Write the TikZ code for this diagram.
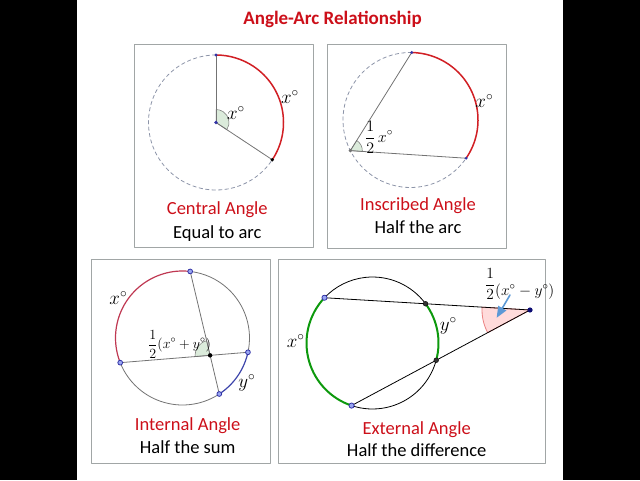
\RequirePackage{fix-cm}
\documentclass[tikz,border=0pt]{standalone}
\usepackage{fontspec}
\setmainfont{Carlito}
\usetikzlibrary{arrows,calc}
\definecolor{ttqqqq}{rgb}{0.8,0.06,0.1}
\definecolor{ccqqqq}{rgb}{0.82,0.12,0.14}
\definecolor{bqbqbq}{rgb}{0.63,0.65,0.65}
\definecolor{cqcqcq}{rgb}{0.45,0.45,0.45}
\definecolor{dadada}{rgb}{0.55,0.58,0.66}
\definecolor{ddeedd}{rgb}{0.86,0.92,0.86}
\definecolor{bqccqq}{rgb}{0.75,0.22,0.32}
\definecolor{qqbqcc}{rgb}{0.24,0.27,0.67}
\definecolor{qqccqq}{rgb}{0.05,0.6,0.05}
\definecolor{ffdddd}{rgb}{1,0.86,0.86}
\definecolor{eeaaaa}{rgb}{0.92,0.5,0.5}
\definecolor{ccddff}{rgb}{0.6,0.65,0.95}
\definecolor{qqqqaa}{rgb}{0.2,0.2,0.65}
\definecolor{qqqq66}{rgb}{0.05,0.05,0.45}
\definecolor{eebbff}{rgb}{0.36,0.6,0.84}

\begin{document}
\begin{tikzpicture}[line cap=round,line join=round,>=triangle 45,x=1pt,y=1pt,
  frame/.style={draw=bqbqbq,line width=0.9pt},
  chord/.style={draw=cqcqcq,line width=0.8pt},
  dashcirc/.style={draw=dadada,dash pattern=on 3.5pt off 3pt,line width=0.8pt},
  redarc/.style={draw=ccqqqq,line width=1.5pt},
  anglegreen/.style={fill=ddeedd,draw=cqcqcq,line width=0.5pt},
  ptblue/.style={fill=ccddff,draw=qqqqaa,line width=0.8pt},
  ptdark/.style={fill=black!80,draw=black},
  caption/.style={anchor=base,font=\fontsize{18.5}{22}\selectfont},
  lbl/.style={font=\fontsize{19}{22}\selectfont}]

\useasboundingbox (0,0) rectangle (640,480);
\fill (0,0) rectangle (77,480);
\fill (563,0) rectangle (640,480);
\node [anchor=base,text=ttqqqq,font=\bfseries\fontsize{19}{23}\selectfont] (title) at (332.5,455) {Angle-Arc Relationship};

% frames
\draw [frame] (134,233) rectangle (313,436);
\draw [frame] (327,232) rectangle (506,436);
\draw [frame] (91,17) rectangle (270,221);
\draw [frame] (278,17) rectangle (545,221);

% central angle
\coordinate (O1) at (216,357.5);
\coordinate (A1) at ($(O1)+(90:67.5)$);
\coordinate (B1) at ($(O1)+(-33.5:67.5)$);
\draw [dashcirc] (A1) arc (90:326.5:67.5);
\draw [shift={(O1)},anglegreen] (0,0) -- (-33.5:13) arc (-33.5:90:13) -- cycle;
\draw [redarc] (B1) arc (-33.5:90:67.5);
\draw [chord] (O1)-- (A1);
\draw [chord] (O1)-- (B1);
\fill [qqqqaa] (O1) circle (1.8);
\fill [qqqqaa] (A1) circle (1.6);
\fill [black] (B1) circle (1.8);
\draw (236,367.3) node [lbl] (x1) {$x^\circ$};
\draw (290,383.3) node [lbl] (x1arc) {$x^\circ$};
\draw (217.3,265) node [caption,text=ttqqqq] (c1) {Central Angle};
\draw (217.3,241.7) node [caption] (d1) {Equal to arc};

% inscribed angle
\coordinate (O2) at (410.5,360);
\coordinate (A2) at ($(O2)+(89:67.5)$);
\coordinate (V2) at ($(O2)+(207:67.5)$);
\coordinate (B2) at ($(O2)+(-34.5:67.5)$);
\draw [dashcirc] (A2) arc (89:325.5:67.5);
\draw [shift={(V2)},anglegreen] (0,0) -- (-3.75:12) arc (-3.75:58:12) -- cycle;
\draw [redarc] (B2) arc (-34.5:89:67.5);
\draw [chord] (V2)-- (A2);
\draw [chord] (V2)-- (B2);
\fill [qqqqaa] (A2) circle (1.6);
\fill [cqcqcq] (V2) circle (1.8);
\fill [qqqqaa] (B2) circle (1.6);
\draw (484.3,379) node [lbl] (x2arc) {$x^\circ$};
\draw (379,343) node [font=\fontsize{16}{19}\selectfont] (x2) {$\displaystyle\frac{1}{2}\,x^\circ$};
\draw (418,269.3) node [caption,text=ttqqqq] (c2) {Inscribed Angle};
\draw (418,246) node [caption] (d2) {Half the arc};

% internal angle
\coordinate (O3) at (182.5,142);
\coordinate (T3) at ($(O3)+(83.4:67)$);
\coordinate (L3) at ($(O3)+(201.6:67)$);
\coordinate (R3) at ($(O3)+(-12.3:67)$);
\coordinate (D3) at ($(O3)+(-56.7:67)$);
\coordinate (I3) at (intersection of T3--D3 and L3--R3);
\draw [chord] (R3) arc (-12.3:83.4:67);
\draw [chord] (L3) arc (201.6:303.3:67);
\draw [draw=bqccqq,line width=1.2pt] (T3) arc (83.4:201.6:67);
\draw [draw=qqbqcc,line width=1.2pt] (D3) arc (-56.7:-12.3:67);
\draw [shift={(I3)},anglegreen] (0,0) -- (103.4:15) arc (103.4:184.7:15) -- cycle;
\draw [chord] (T3)-- (D3);
\draw [chord] (L3)-- (R3);
\foreach \p in {T3,L3,R3,D3}
  \draw [ptblue] (\p) circle (2.4);
\fill [black] (I3) circle (2.2);
\draw (118.3,181.7) node [lbl] (x3) {$x^\circ$};
\draw (246.7,96.7) node [lbl] (y3) {$y^\circ$};
\draw (148,131.5) node [anchor=base west,inner sep=0pt,font=\fontsize{14}{17}\selectfont] (xy3) {$\displaystyle\frac{1}{2}\bigl(x^\circ+y^\circ\bigr)$};
\draw (187.7,49.3) node [caption,text=ttqqqq] (c3) {Internal Angle};
\draw (187.7,26.7) node [caption] (d3) {Half the sum};

% external angle
\coordinate (O4) at (372.5,137);
\coordinate (P4) at (530,170);
\coordinate (U4) at ($(O4)+(136.7:66)$);
\coordinate (L4) at ($(O4)+(251.5:66)$);
\coordinate (X4) at ($(U4)!0.492!(P4)$);
\coordinate (Y4) at ($(L4)!0.4744!(P4)$);
\draw [shift={(P4)},fill=ffdddd,draw=eeaaaa,line width=0.8pt] (0,0) -- (176.6:48) arc (176.6:208.2:48) -- cycle;
\draw [line width=0.8pt] (X4) arc (36.47:136.7:66);
\draw [line width=0.8pt] (L4) arc (251.5:344.86:66);
\draw [draw=qqccqq,line width=2pt] (U4) arc (136.7:251.5:66);
\draw [draw=qqccqq,line width=2pt] (Y4) arc (-15.14:36.47:66);
\draw [line width=0.8pt] (U4)-- (P4);
\draw [line width=0.8pt] (L4)-- (P4);
\draw [ptblue] (U4) circle (2.6);
\draw [ptblue] (L4) circle (2.6);
\draw [ptdark] (X4) circle (2.4);
\draw [ptdark] (Y4) circle (2.4);
\fill [qqqq66] (P4) circle (2.6);
\coordinate (arr1) at (510,185);
\coordinate (arr2) at (496.7,162.3);
\draw [->,line width=1.6pt,color=eebbff] (arr1)-- (arr2);
\draw (295.7,139) node [lbl] (x4) {$x^\circ$};
\draw (448.3,154.3) node [lbl] (y4) {$y^\circ$};
\draw (485,184.5) node [anchor=base west,inner sep=0pt,font=\fontsize{15.5}{18}\selectfont] (xy4) {\raisebox{0.4em}{$\displaystyle\frac{1}{2}$}$\bigl(x^\circ-y^\circ\bigr)$};
\draw (416.7,46) node [caption,text=ttqqqq] (c4) {External Angle};
\draw (416.7,23.3) node [caption] (d4) {Half the difference};

\end{tikzpicture}
\end{document}
